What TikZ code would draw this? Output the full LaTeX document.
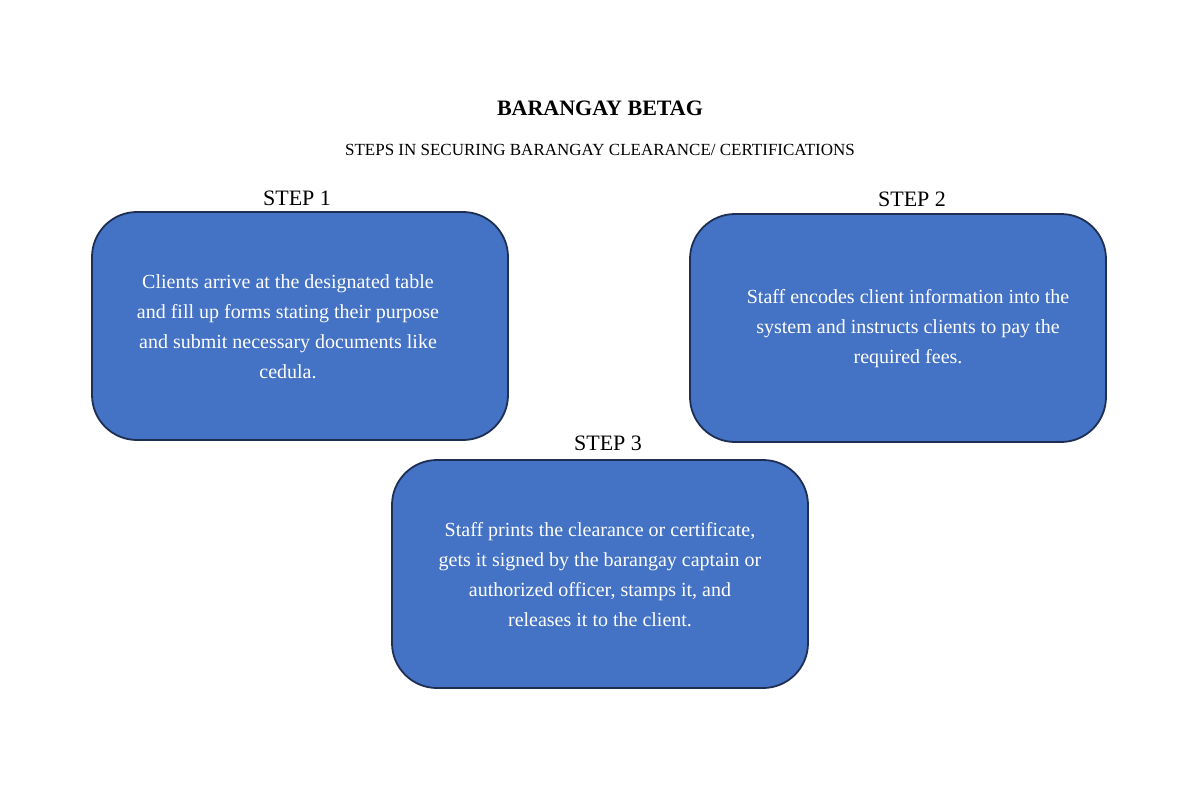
\documentclass[tikz,border=0pt]{standalone}
\usepackage{fontspec}
\setmainfont{Liberation Serif}
\definecolor{boxfill}{HTML}{4472C4}
\definecolor{boxline}{HTML}{1F2F54}
\begin{document}
\begin{tikzpicture}[x=1pt,y=-1pt,
  stepbox/.style={draw=boxline,line width=1.8pt,fill=boxfill,rounded corners=45pt,minimum width=416pt,minimum height=228pt,inner sep=0pt},
  boxtext/.style={text=white,align=center,font=\fontsize{20}{30}\selectfont},
  steplabel/.style={font=\fontsize{22}{26}\selectfont}]
\useasboundingbox[fill=white] (0,0) rectangle (1200,785);
\node[font=\bfseries\fontsize{22}{26}\selectfont] (title) at (600,108) {BARANGAY BETAG};
\node[font=\fontsize{17}{20}\selectfont] (sub) at (600,150) {STEPS IN SECURING BARANGAY CLEARANCE/ CERTIFICATIONS};
\node[steplabel] (l1) at (297,198) {STEP 1};
\node[steplabel] (l2) at (912,199) {STEP 2};
\node[steplabel] (l3) at (608,443) {STEP 3};
\node[stepbox] (b1) at (300,326) {};
\node[stepbox] (b2) at (898,328) {};
\node[stepbox] (b3) at (600,574) {};
\node[boxtext] (t1) at (288,327) {Clients arrive at the designated table\\and fill up forms stating their purpose\\and submit necessary documents like\\cedula.};
\node[boxtext] (t2) at (908,329) {Staff encodes client information into the\\system and instructs clients to pay the\\required fees.};
\node[boxtext] (t3) at (600,575) {Staff prints the clearance or certificate,\\gets it signed by the barangay captain or\\authorized officer, stamps it, and\\releases it to the client.};
\end{tikzpicture}
\end{document}
